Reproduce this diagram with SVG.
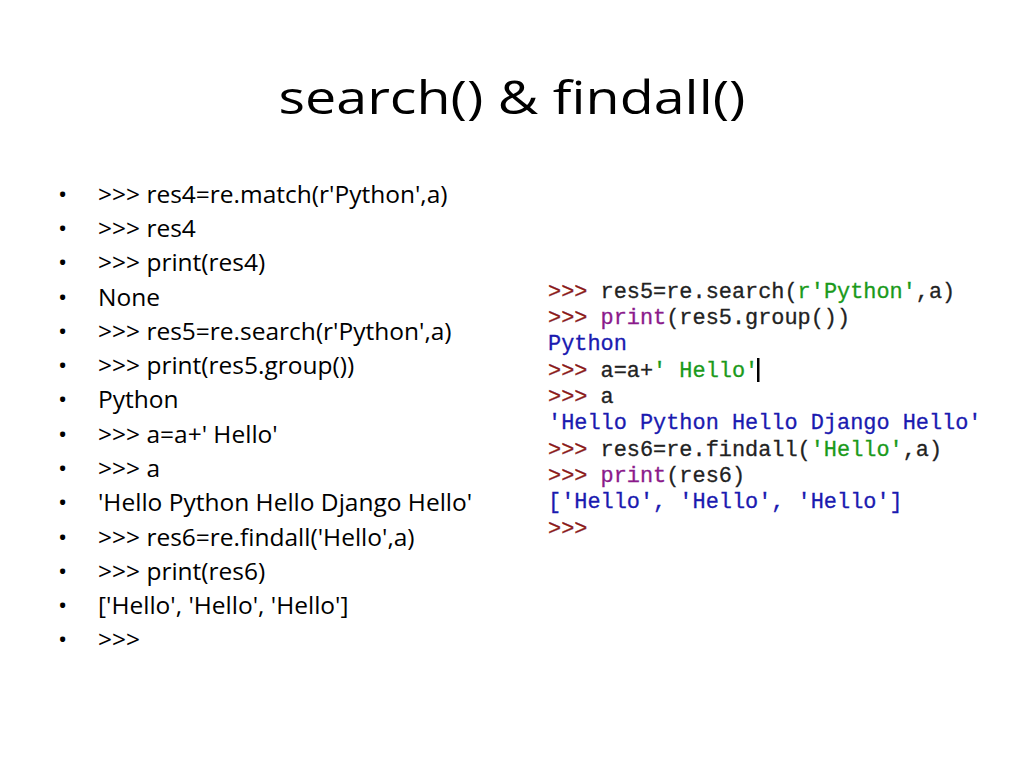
<svg xmlns="http://www.w3.org/2000/svg" width="1024" height="767" viewBox="0 0 1024 767">
<style>
.t{font-family:"Open Sans","Liberation Sans",Arial,sans-serif;font-size:24.5px;fill:#000}
.c{font-family:"Liberation Mono","Courier New",monospace;font-size:21.9px;stroke-width:0.3px}
.p{fill:#8b1a1a;stroke:#8b1a1a}.k{fill:#222;stroke:#222}.m{fill:#8b1a8b;stroke:#8b1a8b}.g{fill:#1a9a1a;stroke:#1a9a1a}.b{fill:#1a1ab0;stroke:#1a1ab0}
</style>
<rect width="1024" height="767" fill="#fff"/>
<text x="512" y="114" text-anchor="middle" style="font-family:'Open Sans','Liberation Sans',Arial,sans-serif;font-size:46px" textLength="467" lengthAdjust="spacingAndGlyphs">search() &amp; findall()</text>
<g id="bullets" class="t">
<text x="58" y="203">•</text><text x="98" y="203">&gt;&gt;&gt; res4=re.match(r'Python',a)</text>
<text x="58" y="237">•</text><text x="98" y="237">&gt;&gt;&gt; res4</text>
<text x="58" y="271">•</text><text x="98" y="271">&gt;&gt;&gt; print(res4)</text>
<text x="58" y="306">•</text><text x="98" y="306">None</text>
<text x="58" y="340">•</text><text x="98" y="340">&gt;&gt;&gt; res5=re.search(r'Python',a)</text>
<text x="58" y="374">•</text><text x="98" y="374">&gt;&gt;&gt; print(res5.group())</text>
<text x="58" y="408">•</text><text x="98" y="408">Python</text>
<text x="58" y="443">•</text><text x="98" y="443">&gt;&gt;&gt; a=a+' Hello'</text>
<text x="58" y="477">•</text><text x="98" y="477">&gt;&gt;&gt; a</text>
<text x="58" y="511">•</text><text x="98" y="511">'Hello Python Hello Django Hello'</text>
<text x="58" y="546">•</text><text x="98" y="546">&gt;&gt;&gt; res6=re.findall('Hello',a)</text>
<text x="58" y="580">•</text><text x="98" y="580">&gt;&gt;&gt; print(res6)</text>
<text x="58" y="614">•</text><text x="98" y="614">['Hello', 'Hello', 'Hello']</text>
<text x="58" y="648">•</text><text x="98" y="648">&gt;&gt;&gt;</text>
</g>
<g id="code" class="c" xml:space="preserve">
<text x="548" y="298"><tspan class="p">&gt;&gt;&gt; </tspan><tspan class="k">res5=re.search(</tspan><tspan class="g">r'Python'</tspan><tspan class="k">,a)</tspan></text>
<text x="548" y="324"><tspan class="p">&gt;&gt;&gt; </tspan><tspan class="m">print</tspan><tspan class="k">(res5.group())</tspan></text>
<text x="548" y="350" class="b">Python</text>
<text x="548" y="377"><tspan class="p">&gt;&gt;&gt; </tspan><tspan class="k">a=a+</tspan><tspan class="g">' Hello'</tspan></text>
<text x="548" y="403"><tspan class="p">&gt;&gt;&gt; </tspan><tspan class="k">a</tspan></text>
<text x="548" y="429" class="b">'Hello Python Hello Django Hello'</text>
<text x="548" y="456"><tspan class="p">&gt;&gt;&gt; </tspan><tspan class="k">res6=re.findall(</tspan><tspan class="g">'Hello'</tspan><tspan class="k">,a)</tspan></text>
<text x="548" y="482"><tspan class="p">&gt;&gt;&gt; </tspan><tspan class="m">print</tspan><tspan class="k">(res6)</tspan></text>
<text x="548" y="508" class="b">['Hello', 'Hello', 'Hello']</text>
<text x="548" y="535" class="p">&gt;&gt;&gt;</text>
</g>
<rect x="757" y="358" width="2.5" height="24" fill="#000"/>
</svg>
